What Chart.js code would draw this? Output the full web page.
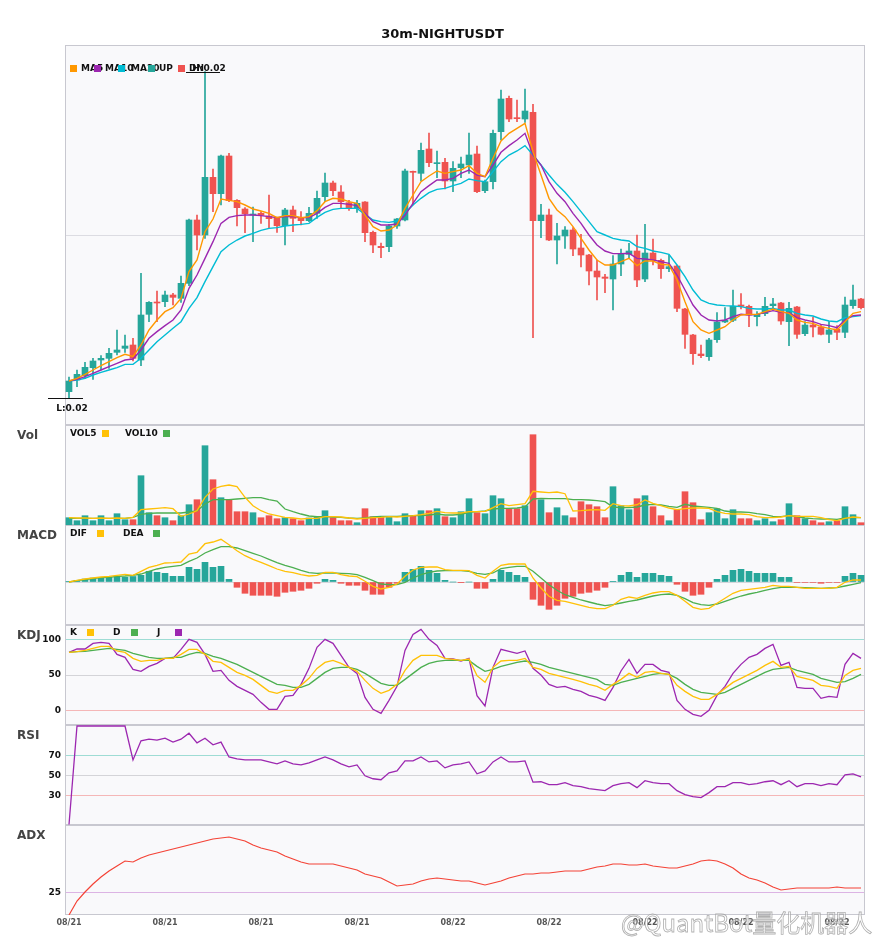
<!DOCTYPE html>
<html>
<head>
<meta charset="utf-8">
<title>30m-NIGHTUSDT</title>
<script src="https://cdn.jsdelivr.net/npm/chart.js@4.4.1/dist/chart.umd.min.js"></script>
<style>
  html, body { margin: 0; padding: 0; background: #fff; }
  body { position: relative; width: 885px; height: 950px; overflow: hidden; font-family: "DejaVu Sans", sans-serif; }
  canvas { position: absolute; left: 0; }
  .txt { position: absolute; white-space: nowrap; font-weight: bold; line-height: 1; }
  .sq { position: absolute; width: 7px; height: 7px; }
  .lbl { font-size: 12px; color: #444; }
  .leg { font-size: 9px; color: #111; }
</style>
</head>
<body>
<canvas id="cMain" width="885" height="425" style="top:0px"></canvas>
<canvas id="cVol" width="885" height="100" style="top:425px"></canvas>
<canvas id="cMacd" width="885" height="100" style="top:525px"></canvas>
<canvas id="cKdj" width="885" height="100" style="top:625px"></canvas>
<canvas id="cRsi" width="885" height="100" style="top:725px"></canvas>
<canvas id="cAdx" width="885" height="110" style="top:825px"></canvas>

<div class="txt" style="left:0;width:885px;text-align:center;top:27px;font-size:13px;color:#111">30m-NIGHTUSDT</div>

<!-- main legend -->
<div class="sq" style="left:70px;top:65px;background:#ff9800"></div><div class="txt leg" style="left:81px;top:64px">MA5</div>
<div class="sq" style="left:94px;top:65px;background:#9c27b0"></div><div class="txt leg" style="left:105px;top:64px">MA10</div>
<div class="sq" style="left:118px;top:65px;background:#00bcd4"></div><div class="txt leg" style="left:131px;top:64px">MA20</div>
<div class="sq" style="left:148px;top:65px;background:#26a69a"></div><div class="txt leg" style="left:159px;top:64px">UP</div>
<div class="sq" style="left:178px;top:65px;background:#ef5350"></div><div class="txt leg" style="left:189px;top:64px">DN</div>

<!-- side labels -->
<div class="txt lbl" style="left:17px;top:429px">Vol</div>
<div class="txt lbl" style="left:17px;top:529px">MACD</div>
<div class="txt lbl" style="left:17px;top:629px">KDJ</div>
<div class="txt lbl" style="left:17px;top:729px">RSI</div>
<div class="txt lbl" style="left:17px;top:829px">ADX</div>

<!-- panel legends -->
<div class="txt leg" style="left:70px;top:429px">VOL5</div><div class="sq" style="left:102px;top:430px;background:#ffc107"></div>
<div class="txt leg" style="left:125px;top:429px">VOL10</div><div class="sq" style="left:163px;top:430px;background:#4caf50"></div>
<div class="txt leg" style="left:70px;top:529px">DIF</div><div class="sq" style="left:97px;top:530px;background:#ffc107"></div>
<div class="txt leg" style="left:123px;top:529px">DEA</div><div class="sq" style="left:153px;top:530px;background:#4caf50"></div>
<div class="txt leg" style="left:70px;top:628px">K</div><div class="sq" style="left:87px;top:629px;background:#ffc107"></div>
<div class="txt leg" style="left:113px;top:628px">D</div><div class="sq" style="left:131px;top:629px;background:#4caf50"></div>
<div class="txt leg" style="left:157px;top:628px">J</div><div class="sq" style="left:175px;top:629px;background:#9c27b0"></div>

<div class="txt" style="left:621px;top:910px;font-size:24px;font-weight:normal;font-family:'Noto Sans CJK SC',sans-serif;color:rgba(255,255,255,0.55);-webkit-text-stroke:0.8px rgba(150,150,150,0.75)">@QuantBot量化机器人</div>

<script>
// 30m candles, 100 bars
const TICK_LABELS = ['08/21', '08/21', '08/21', '08/21', '08/22', '08/22', '08/22', '08/22', '08/22'];
const TICK_STEP = 12;

const OPEN = [
  0.0188, 0.018975, 0.01904, 0.01916, 0.019275, 0.0193, 0.01939, 0.01945, 0.0195, 0.019275,
  0.01996, 0.020145, 0.02015, 0.02025, 0.0202, 0.020425, 0.021375, 0.02115, 0.022015, 0.02177,
  0.022335, 0.02167, 0.02154, 0.02145, 0.021475, 0.021435, 0.02141, 0.02129, 0.021525, 0.02141,
  0.021365, 0.021475, 0.021725, 0.02193, 0.021795, 0.021635, 0.02155, 0.021645, 0.02119, 0.02098,
  0.020975, 0.021285, 0.021375, 0.022105, 0.022075, 0.02244, 0.02222, 0.02224, 0.02196, 0.02216,
  0.0222, 0.022365, 0.021815, 0.02195, 0.0227, 0.0232, 0.02291, 0.02289, 0.02299, 0.021365,
  0.02145, 0.021075, 0.021135, 0.021225, 0.020955, 0.02085, 0.02061, 0.02052, 0.02049, 0.020715,
  0.02086, 0.02091, 0.02049, 0.02088, 0.02077, 0.020645, 0.020685, 0.02004, 0.01965, 0.019365,
  0.019325, 0.01958, 0.019845, 0.01987, 0.0201, 0.02008, 0.019925, 0.01997, 0.02009, 0.02013,
  0.01985, 0.02007, 0.01967, 0.0198, 0.01977, 0.01966, 0.01974, 0.01969, 0.02009, 0.02019
];
const CLOSE = [
  0.01896, 0.01906, 0.019165, 0.01926, 0.0193, 0.019375, 0.019425, 0.019485, 0.0193, 0.01995,
  0.02014, 0.02013, 0.02025, 0.020215, 0.020425, 0.021375, 0.02115, 0.022015, 0.02177, 0.022335,
  0.021665, 0.02156, 0.02147, 0.021465, 0.021445, 0.021395, 0.02129, 0.021525, 0.0214, 0.021365,
  0.021475, 0.0217, 0.02193, 0.021815, 0.02165, 0.02155, 0.021625, 0.021185, 0.021, 0.02096,
  0.021285, 0.02139, 0.02211, 0.02209, 0.02242, 0.022235, 0.022235, 0.02196, 0.02215, 0.022215,
  0.02235, 0.0218, 0.02195, 0.022675, 0.02319, 0.02289, 0.022895, 0.02301, 0.021365, 0.02145,
  0.021075, 0.021135, 0.021225, 0.02094, 0.02085, 0.02061, 0.02052, 0.0205, 0.020715, 0.02086,
  0.02091, 0.020475, 0.02088, 0.020775, 0.020645, 0.020675, 0.02005, 0.01966, 0.01937, 0.01934,
  0.019575, 0.019845, 0.01987, 0.02008, 0.02008, 0.01995, 0.01996, 0.02008, 0.020115, 0.01986,
  0.02005, 0.01966, 0.0198, 0.01977, 0.01966, 0.019725, 0.01969, 0.0201, 0.020175, 0.02006
];
const HIGH = [
  0.01902, 0.019125, 0.01924, 0.0193, 0.01934, 0.01945, 0.019725, 0.01965, 0.0196, 0.020575,
  0.02015, 0.02031, 0.02031, 0.020275, 0.020535, 0.02139, 0.02145, 0.0236, 0.02214, 0.02235,
  0.022375, 0.02168, 0.02156, 0.02157, 0.0215, 0.02175, 0.02142, 0.02155, 0.021585, 0.0215,
  0.021565, 0.02181, 0.02208, 0.02196, 0.02189, 0.02167, 0.02167, 0.02165, 0.02121, 0.02103,
  0.02131, 0.0214, 0.02214, 0.02211, 0.02253, 0.02268, 0.02241, 0.0223, 0.02225, 0.02232,
  0.02268, 0.022485, 0.021975, 0.022725, 0.023325, 0.023235, 0.023175, 0.02334, 0.02311, 0.02161,
  0.02154, 0.021325, 0.021275, 0.02126, 0.02116, 0.02086, 0.020775, 0.02056, 0.02084, 0.02094,
  0.021025, 0.02115, 0.02131, 0.02109, 0.02079, 0.02085, 0.0207, 0.02005, 0.01966, 0.0195,
  0.0196, 0.019985, 0.02006, 0.020325, 0.02027, 0.0201, 0.02, 0.020215, 0.0202, 0.02014,
  0.02014, 0.02008, 0.01985, 0.01992, 0.01981, 0.01985, 0.01979, 0.02022, 0.0204, 0.0202
];
const LOW = [
  0.01871, 0.018875, 0.019, 0.018985, 0.019125, 0.01915, 0.01935, 0.01939, 0.01926, 0.01919,
  0.01985, 0.01985, 0.020075, 0.0201, 0.02014, 0.02039, 0.020925, 0.0211, 0.0215, 0.0216,
  0.02165, 0.021285, 0.021185, 0.02105, 0.021325, 0.02126, 0.02119, 0.021, 0.0212, 0.0213,
  0.02135, 0.0214, 0.02165, 0.02174, 0.02155, 0.02152, 0.02149, 0.02105, 0.020885, 0.02081,
  0.0209, 0.02125, 0.02136, 0.0216, 0.02196, 0.022175, 0.02201, 0.02184, 0.0218, 0.02201,
  0.022075, 0.021785, 0.021785, 0.02184, 0.022575, 0.02285, 0.02285, 0.02284, 0.01961, 0.02111,
  0.021065, 0.020715, 0.02095, 0.02084, 0.02067, 0.0204, 0.020175, 0.020285, 0.020025, 0.02054,
  0.0208, 0.020375, 0.02045, 0.0207, 0.0205, 0.0206, 0.02, 0.01945, 0.01921, 0.01931,
  0.01927, 0.01954, 0.019835, 0.01985, 0.02004, 0.019775, 0.019785, 0.01994, 0.020025, 0.01981,
  0.01949, 0.0196, 0.01964, 0.01962, 0.01965, 0.019535, 0.01958, 0.01961, 0.02005, 0.02004
];
const MA5 = [
  0.01896, 0.019, 0.01906, 0.019125, 0.01919, 0.01925, 0.01931, 0.01936, 0.01933, 0.0195,
  0.019725, 0.019875, 0.02, 0.02006, 0.0202, 0.0206, 0.020775, 0.0212, 0.02139, 0.02169,
  0.02167, 0.02165, 0.0216, 0.02154, 0.02151, 0.021475, 0.02141, 0.02144, 0.02144, 0.02141,
  0.021425, 0.021515, 0.02165, 0.0217, 0.02169, 0.02165, 0.021625, 0.02145, 0.021275, 0.02121,
  0.021225, 0.0213, 0.02155, 0.02175, 0.02195, 0.022035, 0.02211, 0.022075, 0.0221, 0.022125,
  0.02219, 0.022075, 0.022025, 0.0223, 0.02256, 0.022675, 0.02275, 0.022825, 0.0224, 0.02205,
  0.0217, 0.021525, 0.021425, 0.021275, 0.0211, 0.020925, 0.020775, 0.0207, 0.0207, 0.02075,
  0.0208, 0.02069, 0.02076, 0.02076, 0.02071, 0.0207, 0.020475, 0.02015, 0.01985, 0.019725,
  0.019675, 0.019725, 0.019775, 0.019875, 0.01995, 0.01996, 0.01996, 0.02, 0.02004, 0.02,
  0.019975, 0.019875, 0.01984, 0.019825, 0.019775, 0.01975, 0.019725, 0.01985, 0.019975, 0.02
];
const MA10 = [
  0.01896, 0.018985, 0.019025, 0.019075, 0.019125, 0.019175, 0.019225, 0.019275, 0.01929, 0.019425,
  0.0196, 0.0197, 0.01979, 0.019875, 0.020025, 0.02035, 0.02055, 0.0208, 0.02105, 0.021325,
  0.021415, 0.02144, 0.02145, 0.02145, 0.02144, 0.021425, 0.02141, 0.021425, 0.021425, 0.02141,
  0.02141, 0.021475, 0.021565, 0.021625, 0.021625, 0.02161, 0.02159, 0.021475, 0.02135, 0.0213,
  0.0213, 0.021315, 0.02145, 0.021625, 0.0218, 0.02189, 0.021975, 0.021975, 0.022, 0.022075,
  0.022125, 0.02205, 0.022025, 0.0222, 0.02239, 0.02249, 0.022575, 0.022675, 0.02235, 0.0222,
  0.02195, 0.021775, 0.02165, 0.021475, 0.021325, 0.02115, 0.021, 0.02091, 0.02087, 0.02087,
  0.020875, 0.0208, 0.02079, 0.020775, 0.02075, 0.020725, 0.02055, 0.020325, 0.0201, 0.01995,
  0.019875, 0.01986, 0.019875, 0.019925, 0.01996, 0.01995, 0.01996, 0.019985, 0.020015, 0.01999,
  0.019985, 0.01991, 0.019875, 0.01985, 0.01981, 0.01979, 0.01976, 0.019875, 0.01994, 0.01995
];
const MA20 = [
  0.01896, 0.018975, 0.019, 0.01905, 0.01909, 0.019125, 0.01916, 0.01921, 0.01921, 0.0193,
  0.019425, 0.01955, 0.01965, 0.01975, 0.01985, 0.02005, 0.02021, 0.02045, 0.020675, 0.0209,
  0.021, 0.021075, 0.021135, 0.021175, 0.02122, 0.02125, 0.02126, 0.021285, 0.0213, 0.02131,
  0.021325, 0.021415, 0.02149, 0.021535, 0.02155, 0.02155, 0.02155, 0.02146, 0.021375, 0.02135,
  0.02134, 0.02136, 0.021475, 0.0216, 0.0217, 0.021785, 0.021835, 0.02185, 0.02189, 0.021925,
  0.02199, 0.021965, 0.02195, 0.0221, 0.02225, 0.02235, 0.02241, 0.02249, 0.02235, 0.0222,
  0.02205, 0.02191, 0.02179, 0.02165, 0.0215, 0.02135, 0.0212, 0.02115, 0.0211, 0.021075,
  0.02106, 0.020975, 0.02095, 0.02091, 0.02089, 0.02086, 0.0207, 0.020525, 0.020325, 0.020175,
  0.020125, 0.0201, 0.02009, 0.020085, 0.020075, 0.02005, 0.02004, 0.02004, 0.02005, 0.020025,
  0.020025, 0.019975, 0.01995, 0.019935, 0.01989, 0.01986, 0.01985, 0.01991, 0.019925, 0.01994
];

// volume in thousands
const VOLUME = [
  7.3, 4.3, 9.3, 4.3, 9.3, 4.3, 11.3, 5.3, 5.3, 49.3,
  12.3, 9.3, 7.3, 4.3, 9.3, 20.3, 25.3, 79.3, 45.3, 27.3,
  24.7, 13.3, 13.3, 12.3, 7.3, 9.3, 6.3, 7.3, 6.3, 4.3,
  7, 8.3, 14.3, 7.3, 4.3, 4.3, 2.3, 16.3, 8.3, 8.3,
  8.3, 3.3, 11.3, 9.3, 14.3, 14.3, 16.3, 8.3, 7.3, 13.3,
  26.3, 12.3, 11.3, 29.3, 26.3, 16.3, 16.3, 19.3, 90.3, 25.3,
  12.3, 17.3, 9.3, 7.3, 23.3, 20.3, 18.3, 7.3, 38.3, 19.3,
  15.3, 26.3, 29.3, 18.3, 9.3, 4.3, 15.3, 33.3, 22.3, 5.3,
  12.3, 16.3, 6.3, 15.3, 6.3, 6.3, 4.3, 6.3, 3.3, 5.3,
  21.3, 9.3, 6.3, 4.3, 2.3, 3.3, 4.3, 18.3, 10.3, 2.3
];
const VOL5 = [
  7.3, 7, 7, 6.7, 7, 6.7, 7, 6.7, 7.7, 15.3,
  16, 16.7, 17.3, 16.3, 8.7, 11, 14.3, 27.7, 36, 38.7,
  40, 38.3, 27.7, 19.3, 14.3, 11, 9.3, 7.7, 7, 6,
  6.7, 6.7, 8.3, 8.3, 8, 7, 6, 6.7, 7.3, 7.7,
  8.3, 8, 8.7, 9.3, 10.3, 11.7, 13.7, 12.3, 12, 12,
  13.3, 13.3, 13.7, 17.3, 21.3, 19.3, 20.3, 21.3, 33.7, 33,
  32.3, 33, 31.3, 14, 14.3, 15, 15.3, 14.7, 21.3, 19.3,
  19, 20.3, 25, 21.7, 19.3, 17, 15.3, 16.3, 17, 17,
  16.7, 13.3, 11.7, 11, 11, 10.3, 8.3, 7.3, 7.3, 8,
  9.3, 8.7, 8.7, 8.7, 7.3, 5.3, 4.3, 6.7, 8, 7.3
];
const VOL10 = [
  6.7, 6.7, 6.7, 6.7, 6.7, 6.7, 6.7, 6.7, 7.7, 10.7,
  11.7, 12, 12, 12, 12, 13, 14, 21, 25.3, 25.3,
  25.3, 26, 26.7, 27.3, 27.3, 25.3, 24, 16, 13.3, 11,
  9, 8.3, 8.3, 8, 7.7, 7, 6.7, 7, 8, 8.7,
  8.7, 8.7, 9, 9.3, 9.3, 10, 11, 10, 10, 10.7,
  12.7, 13.3, 14, 16, 16.7, 16.7, 17, 18, 26, 26.7,
  26.3, 26.3, 26.3, 25.3, 25.3, 25, 24.3, 23.3, 18, 17.3,
  17.3, 18, 20, 20.7, 20, 18.7, 17.7, 20.7, 19, 18.3,
  17.7, 16.7, 14, 13, 13, 12.7, 11.3, 10.3, 8.7, 8.3,
  9.3, 8.3, 7, 6.3, 6, 6, 5.7, 7, 7.7, 7.3
];

// MACD values in units of 1e-6
const MACD_HIST = [
  0.3, 1.7, 3, 4, 4.7, 4.7, 5.7, 4.7, 5.5, 6.7,
  10.7, 9.7, 8.7, 5.7, 5.7, 14.7, 12.7, 19.7, 14.7, 15.7,
  2.7, -5.3, -11.3, -13.3, -13.3, -13.3, -14.3, -10.3, -9.3, -8.3,
  -6.3, -1.3, 2.7, 1.7, -1.3, -3.3, -3.3, -8.3, -12.3, -12.3,
  -5.3, -1.3, 9.7, 12.7, 15.7, 11.7, 8.7, 1.7, 0, -0.3,
  0, -6.3, -6.3, 2.7, 11.7, 9.7, 6.7, 4.7, -17.3, -23.3,
  -27.3, -23.3, -16.3, -14.3, -11.3, -10.3, -8.3, -5.3, 0.3, 6.7,
  9.7, 4.7, 8.7, 8.7, 6.7, 5.7, -2.3, -9.3, -13.3, -12.3,
  -5.3, 2.7, 6.7, 11.7, 12.7, 10.7, 8.7, 8.7, 8.7, 4.7,
  4.7, -0.5, -0.5, -0.5, -1.3, -0.5, -0.5, 5.7, 8.7, 6.7
];
const DIF = [
  0, 1.7, 3, 4, 5, 5.7, 6.7, 7.7, 6.7, 10.7,
  14.7, 16.7, 19, 19.3, 20, 28, 29.7, 38.3, 40, 42.7,
  37.3, 31.3, 26.3, 22.7, 19.7, 16.3, 13, 10.7, 9.3, 7.3,
  6, 6.7, 9.7, 9.7, 7.3, 6, 5.3, 0.7, -4.3, -7,
  -5.3, -2, 5.7, 12, 14.7, 15, 15, 12.3, 11.7, 11.7,
  11.3, 6.7, 4, 10.7, 16.7, 18, 18, 18, 4, -6,
  -14.3, -18.3, -19.3, -21.3, -23.3, -25.3, -26.7, -26.7, -23.3, -17.3,
  -15, -16.3, -13.3, -11, -9.7, -9.7, -13.3, -19.3, -25.3, -27.3,
  -26.3, -21.3, -16.3, -11.3, -8.3, -7.3, -6.3, -5.3, -3.3, -4.3,
  -4.3, -5.3, -6.3, -6.3, -6.3, -6.3, -5.3, -0.3, 2, 2
];
const DEA = [
  0, 1.3, 2.3, 3.3, 4.3, 4.7, 5.7, 6, 6.7, 8,
  10.7, 13, 14.7, 15.7, 16.7, 20.7, 24, 29, 32.3, 35.3,
  35.3, 34, 31.3, 28.7, 26, 22.7, 19.3, 16.7, 14.3, 11.7,
  9.3, 8.7, 9, 9, 8.7, 8.3, 7.3, 4.7, 1.3, -2,
  -2.7, -2.7, -0.3, 4, 7.3, 9.7, 11, 11.3, 11.3, 11.3,
  10.7, 8.7, 7.7, 9, 13.3, 14.7, 15.7, 15.7, 10.7, 4,
  -2.7, -8.3, -12.7, -15.3, -18, -20, -22, -23.7, -22.7, -21,
  -19.3, -18, -16, -14, -12.7, -12, -13.3, -16.7, -20.7, -22.7,
  -23.3, -22, -19.3, -16.7, -14, -12, -10.3, -8.3, -6.7, -5.3,
  -5, -5.3, -5.7, -6, -6.3, -6, -5.7, -4, -2.3, -0.7
];

const K = [
  81.7, 82.7, 84.5, 87.3, 90.1, 90.1, 83.6, 81.7, 73.3, 69.1,
  70.5, 70.5, 73.3, 73.3, 78.9, 85.9, 85.9, 78.9, 69.1, 67.7,
  60.7, 53.7, 49.5, 43.9, 35.5, 27.1, 24.3, 28.5, 28.5, 35.5,
  45.3, 59.3, 67.7, 70.5, 66.3, 60.7, 55.1, 42.5, 31.3, 24.3,
  28.5, 36.9, 56.5, 70.5, 77.5, 77.5, 77.5, 73.3, 71.9, 70.5,
  72.4, 49.1, 39.7, 60.7, 69.6, 70.5, 70.5, 73.3, 60.7, 57.9,
  52.3, 49.5, 46.7, 43.9, 40.7, 36.9, 34.1, 28.5, 36.9, 43.9,
  52.3, 46.7, 53.7, 55.1, 52.3, 50.9, 35.5, 27.1, 20.1, 15.9,
  15.9, 22.9, 31.3, 39.7, 45.3, 50.9, 56.5, 63.5, 69.1, 60.7,
  62.1, 48.1, 45.3, 42.5, 35.5, 34.1, 31.3, 49.5, 56.5, 59.3
];
const D = [
  81.7, 82.7, 83.1, 84.5, 85.9, 87.3, 85.9, 84.5, 80.3, 77.5,
  74.7, 73.3, 73.3, 74.7, 74.7, 78.9, 81.7, 80.3, 76.1, 73.3,
  69.1, 64.9, 59.3, 53.7, 48.1, 42.5, 36.9, 35.5, 32.7, 32.7,
  36.9, 45.3, 53.7, 59.3, 60.7, 60.7, 57.9, 52.3, 45.3, 38.3,
  35.5, 35.5, 43.9, 52.3, 60.7, 66.3, 69.1, 70.5, 70.5, 70.5,
  70.5, 62.1, 55.1, 57.9, 62.1, 64.9, 67.7, 69.6, 67.7, 64.9,
  60.7, 57.9, 55.1, 52.3, 49.5, 46.7, 43.9, 36.9, 35.5, 39.7,
  42.5, 45.3, 48.1, 50.9, 52.3, 50.9, 45.3, 36.9, 29.9, 25.7,
  24.3, 22.9, 25.7, 31.3, 36.9, 42.5, 48.1, 53.7, 57.9, 59.3,
  60.7, 56.5, 53.7, 50.9, 45.3, 42.5, 39.7, 40.7, 45.3, 50.9
];
const J = [
  81.7, 86.4, 86.4, 94.3, 95.7, 94.3, 78.9, 74.7, 57.9, 55.1,
  62.1, 66.3, 73.3, 73.3, 85.9, 99.9, 95.7, 78.9, 55.1, 56.5,
  42.5, 34.1, 28.5, 22.9, 11.7, 1.9, 1.9, 20.1, 21.5, 36.9,
  59.3, 88.7, 99.9, 94.3, 77.5, 60.7, 52.3, 18.7, 1.9, -3.7,
  14.5, 34.1, 84.5, 106.9, 113.9, 99.9, 91.5, 73.3, 72.4, 69.6,
  73.3, 21.1, 6.6, 60.7, 85.9, 83.1, 80.3, 83.6, 59.3, 50,
  36.9, 32.7, 34.1, 29.9, 27.1, 21.5, 18.7, 14.5, 32.7, 55.6,
  71.9, 52.3, 64.9, 64.9, 56.5, 53.7, 14.5, 1.9, -5.1, -7.9,
  0.5, 21.5, 34.1, 52.3, 64.9, 74.7, 78.9, 87.3, 92.9, 63.5,
  67.7, 32.7, 31.3, 31.3, 17.3, 20.1, 18.7, 64.9, 80.3, 73.3
];
const RSI = [
  0.5, 100, 100, 100, 100, 100, 100, 100, 65.7, 85,
  86.7, 85.7, 87.7, 83.7, 86.7, 92.7, 83, 87.7, 81, 83.7,
  68.7, 66.7, 65.7, 65.7, 65.7, 63.7, 61.7, 64.7, 61.7, 60.7,
  62.7, 65.7, 68.7, 65.7, 61.7, 58.7, 60.7, 49.7, 46.7, 45.7,
  52.7, 54.7, 64.7, 64.7, 68.7, 63.7, 64.7, 57.7, 60.7, 61.7,
  63.7, 51.7, 54.7, 63.7, 68.7, 63.7, 63.7, 64.7, 43.3, 43.7,
  40.7, 40.7, 42.7, 39.7, 38.7, 36.7, 35.7, 34.7, 39.7, 41.7,
  42.7, 37.7, 44.7, 42.7, 41.7, 41.7, 34.7, 30.7, 28.7, 27.7,
  32.7, 38.7, 38.7, 42.7, 42.7, 40.7, 41.7, 43.7, 44.7, 40.7,
  44.7, 38.7, 41.7, 41.7, 39.7, 41.7, 40.7, 50.7, 51.7, 48.7
];
const ADX = [
  16, 21.6, 25.2, 28.4, 31.2, 33.6, 35.6, 37.6, 37.2, 38.8,
  40, 40.8, 41.6, 42.4, 43.2, 44, 44.8, 45.6, 46.4, 46.8,
  47.2, 46.4, 45.6, 44, 42.8, 42, 41.2, 39.6, 38.4, 37.2,
  36.4, 36.4, 36.4, 36.4, 35.6, 34.8, 34, 32.4, 31.6, 30.8,
  29.2, 27.6, 28, 28.4, 29.6, 30.4, 30.8, 30.4, 30, 29.6,
  29.6, 28.8, 28, 28.8, 29.6, 30.8, 31.6, 32.4, 32.4, 32.8,
  32.8, 33.2, 33.6, 33.6, 33.6, 34.4, 35.2, 35.6, 36.4, 36.4,
  36, 36, 36.4, 35.6, 35.2, 34.8, 34.8, 35.6, 36.4, 37.6,
  38, 37.6, 36.4, 34.8, 32.4, 30.8, 30, 28.8, 27.2, 26,
  26.4, 26.8, 26.8, 26.8, 26.8, 26.8, 27.2, 26.8, 26.8, 26.8
];

const UP = '#26a69a';
const DN = '#ef5350';
const FONT = 'DejaVu Sans';
const labels = OPEN.map((_, i) => i);
const candleColors = OPEN.map((o, i) => (CLOSE[i] >= o ? UP : DN));

// panel background + frame (frame under the series)
const panelPlugin = {
  id: 'panel',
  beforeDraw(chart) {
    const { ctx, chartArea: a } = chart;
    ctx.save();
    ctx.fillStyle = '#f9f9fb';
    ctx.fillRect(a.left, a.top, a.right - a.left, a.bottom - a.top);
    ctx.restore();
  },
  beforeDatasetsDraw(chart) {
    const { ctx, chartArea: a } = chart;
    ctx.save();
    ctx.strokeStyle = '#c8c8d0';
    ctx.lineWidth = 1;
    ctx.strokeRect(a.left + 0.5, a.top + 0.5, a.right - a.left - 1, a.bottom - a.top - 1);
    ctx.restore();
  }
};

// high / low markers on the price panel
const hlPlugin = {
  id: 'hl',
  afterDraw(chart) {
    const { ctx } = chart;
    const xs = chart.scales.x, ys = chart.scales.y;
    let hi = 0, lo = 0;
    HIGH.forEach((v, i) => { if (v > HIGH[hi]) hi = i; });
    LOW.forEach((v, i) => { if (v < LOW[lo]) lo = i; });
    ctx.save();
    ctx.strokeStyle = '#111';
    ctx.fillStyle = '#111';
    ctx.lineWidth = 1;
    ctx.font = 'bold 9px "' + FONT + '"';
    ctx.textAlign = 'center';
    ctx.textBaseline = 'alphabetic';
    let x = xs.getPixelForValue(hi), y = Math.round(ys.getPixelForValue(HIGH[hi])) + 0.5;
    ctx.beginPath(); ctx.moveTo(x - 19, y); ctx.lineTo(x + 15, y); ctx.stroke();
    ctx.fillText('H:' + HIGH[hi].toFixed(2), x + 4, y - 2);
    x = xs.getPixelForValue(lo); y = Math.round(ys.getPixelForValue(LOW[lo])) + 0.5;
    ctx.beginPath(); ctx.moveTo(x - 21, y); ctx.lineTo(x + 14, y); ctx.stroke();
    ctx.fillText('L:' + LOW[lo].toFixed(2), x + 3, y + 12);
    ctx.restore();
  }
};

function yAxis(min, max, tickVals, gridColors, showLabels) {
  return {
    min, max,
    afterFit: s => { s.width = 65; s.paddingTop = 0; s.paddingBottom = 0; },
    afterBuildTicks: s => { s.ticks = tickVals.map(v => ({ value: v })); },
    grid: {
      display: tickVals.length > 0,
      drawTicks: false,
      color: c => gridColors[tickVals.indexOf(c.tick ? c.tick.value : null)] || 'rgba(0,0,0,0)'
    },
    border: { display: false },
    ticks: { display: showLabels, padding: 4, color: '#111', font: { family: FONT, size: 9, weight: 'bold' } }
  };
}

const hiddenX = { type: 'category', offset: true, display: false };

function baseOptions(xAxis, yAx, top) {
  return {
    responsive: false,
    animation: false,
    events: [],
    layout: { autoPadding: false, padding: { left: 0, right: 20, top: top || 0, bottom: 0 } },
    plugins: { legend: { display: false }, tooltip: { enabled: false } },
    scales: { x: xAxis, y: yAx }
  };
}

function line(data, color, width) {
  return { type: 'line', data, borderColor: color, borderWidth: width || 1.3, pointRadius: 0, tension: 0, fill: false, order: 0 };
}

// price panel
new Chart(document.getElementById('cMain'), {
  type: 'bar',
  data: {
    labels,
    datasets: [
      line(MA5, '#ff9800', 1.4),
      line(MA10, '#9c27b0', 1.4),
      line(MA20, '#00bcd4', 1.4),
      { type: 'bar', data: OPEN.map((o, i) => [o, CLOSE[i]]), backgroundColor: candleColors, barThickness: 6, minBarLength: 1, grouped: false, order: 1 },
      { type: 'bar', data: LOW.map((l, i) => [l, HIGH[i]]), backgroundColor: candleColors, barThickness: 1, grouped: false, order: 2 }
    ]
  },
  options: baseOptions(hiddenX, yAxis(0.0183, 0.024, [0.02115], ['#dcdce2'], false), 45),
  plugins: [panelPlugin, hlPlugin]
});

// volume panel
new Chart(document.getElementById('cVol'), {
  type: 'bar',
  data: {
    labels,
    datasets: [
      line(VOL5, '#ffc107', 1.3),
      line(VOL10, '#4caf50', 1.3),
      { type: 'bar', data: VOLUME, backgroundColor: candleColors, barThickness: 6, grouped: false, order: 1 }
    ]
  },
  options: baseOptions(hiddenX, yAxis(0, 100, [], [], false)),
  plugins: [panelPlugin]
});

// MACD panel
new Chart(document.getElementById('cMacd'), {
  type: 'bar',
  data: {
    labels,
    datasets: [
      line(DIF, '#ffc107', 1.3),
      line(DEA, '#4caf50', 1.3),
      { type: 'bar', data: MACD_HIST, backgroundColor: MACD_HIST.map(v => (v >= 0 ? UP : DN)), barThickness: 6, grouped: false, order: 1 }
    ]
  },
  options: baseOptions(hiddenX, yAxis(-43, 57, [0], ['#d6d6dc'], false)),
  plugins: [panelPlugin]
});

// KDJ panel
new Chart(document.getElementById('cKdj'), {
  type: 'line',
  data: { labels, datasets: [line(K, '#ffc107'), line(D, '#4caf50'), line(J, '#9c27b0')] },
  options: baseOptions(hiddenX, yAxis(-20, 120, [0, 50, 100], ['#f5b7b7', '#d4d4d8', '#9edcd4'], true)),
  plugins: [panelPlugin]
});

// RSI panel (flat 100 run sits on the top edge)
const rsiLine = line(RSI, '#9c27b0');
rsiLine.clip = false;
new Chart(document.getElementById('cRsi'), {
  type: 'line',
  data: { labels, datasets: [rsiLine] },
  options: baseOptions(hiddenX, yAxis(0, 101, [30, 50, 70], ['#f5b7b7', '#d4d4d8', '#9edcd4'], true)),
  plugins: [panelPlugin]
});

// ADX panel with the time axis
const adxX = {
  type: 'category',
  offset: true,
  afterFit: s => { s.height = 20; s.paddingLeft = 0; s.paddingRight = 0; },
  afterBuildTicks: s => { s.ticks = s.ticks.filter(t => t.value % TICK_STEP === 0); },
  grid: { display: false, drawTicks: false },
  border: { display: false },
  ticks: {
    autoSkip: false, maxRotation: 0, minRotation: 0, padding: 3,
    color: '#555', font: { family: FONT, size: 8, weight: 'bold' },
    callback: v => TICK_LABELS[v / TICK_STEP]
  }
};
new Chart(document.getElementById('cAdx'), {
  type: 'line',
  data: { labels, datasets: [line(ADX, '#f44336', 1.2)] },
  options: baseOptions(adxX, yAxis(16, 52, [25], ['#dcb4e4'], true)),
  plugins: [panelPlugin]
});
</script>
</body>
</html>
